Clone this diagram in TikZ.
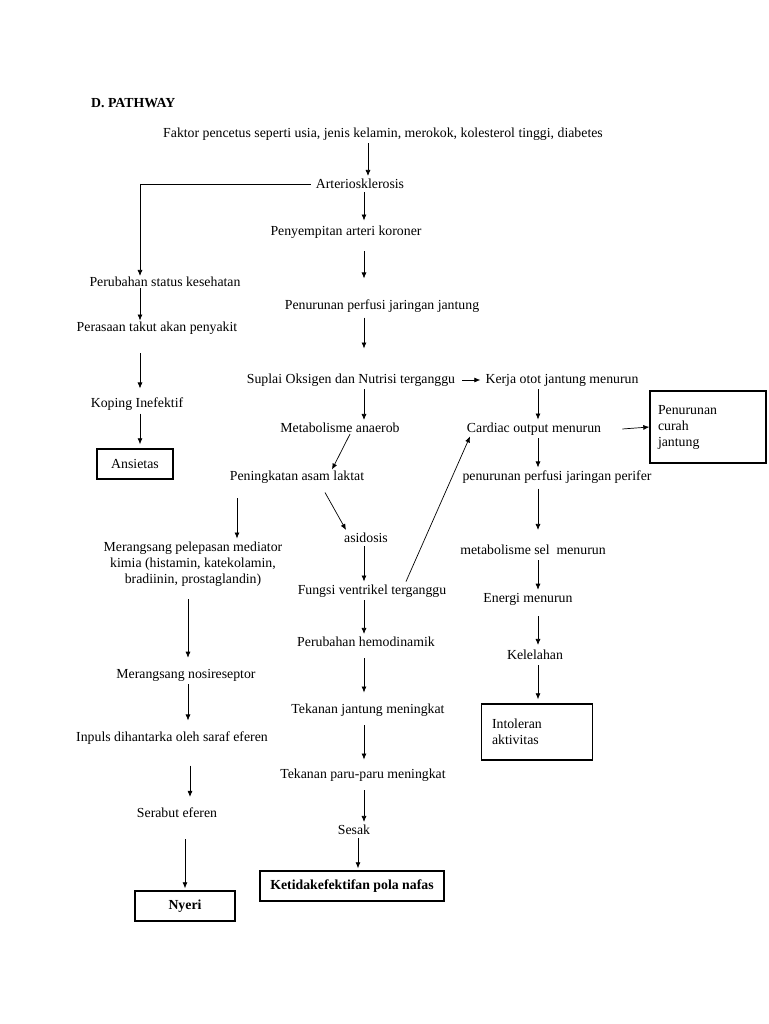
\documentclass[tikz,border=0pt]{standalone}
\usepackage{fontspec}
\setmainfont{Liberation Serif}
\usetikzlibrary{arrows.meta}
\begin{document}
\begin{tikzpicture}[x=1pt,y=-1pt,
  t/.style={inner sep=1pt,font=\fontsize{13.8}{16}\selectfont},
  bx/.style={t,draw,line width=1.4pt,minimum height=30pt,inner sep=4pt},
  ar/.style={-{Latex[length=6pt,width=5pt]},line width=0.7pt}]
\useasboundingbox (0,0) rectangle (768,1024);
\node[t,anchor=west,font=\bfseries\fontsize{13.8}{16}\selectfont] (title) at (90,103) {D. PATHWAY};
\node[t] (f) at (383,134) {Faktor pencetus seperti usia, jenis kelamin, merokok, kolesterol tinggi, diabetes};
\node[t] (art) at (360,184) {Arteriosklerosis};
\node[t] (pen) at (346,232) {Penyempitan arteri koroner};
\node[t] (perf) at (382,306) {Penurunan perfusi jaringan jantung};
\node[t] (sup) at (351,380) {Suplai Oksigen dan Nutrisi terganggu};
\node[t] (kerja) at (562,380) {Kerja otot jantung menurun};
\node[t] (meta) at (340,428) {Metabolisme anaerob};
\node[t] (card) at (534,429) {Cardiac output menurun};
\node[t,draw,line width=1.4pt,minimum width=116pt,minimum height=72pt,align=left,text width=100pt,inner sep=3pt] (pcj) at (708,427) {Penurunan\\curah\\jantung};
\node[t] (pening) at (297,477) {Peningkatan asam laktat};
\node[t] (perifer) at (557,477) {penurunan perfusi jaringan perifer};
\node[t,align=center] (meran) at (193,564) {Merangsang pelepasan mediator\\kimia (histamin, katekolamin,\\bradiinin, prostaglandin)};
\node[t] (asid) at (366,538) {asidosis};
\node[t] (metsel) at (533,550) {metabolisme sel\ \ menurun};
\node[t] (fungsi) at (372,591) {Fungsi ventrikel terganggu};
\node[t] (energi) at (528,599) {Energi menurun};
\node[t] (perub) at (366,642) {Perubahan hemodinamik};
\node[t] (kel) at (535,655) {Kelelahan};
\node[t] (nosi) at (186,675) {Merangsang nosireseptor};
\node[t,draw,line width=1.4pt,minimum width=111pt,minimum height=56pt,align=left,text width=90pt,inner sep=3pt] (into) at (537,732) {Intoleran\\aktivitas};
\node[t] (tekj) at (368,710) {Tekanan jantung meningkat};
\node[t] (inpuls) at (172,738) {Inpuls dihantarka oleh saraf eferen};
\node[t] (tekp) at (363,775) {Tekanan paru-paru meningkat};
\node[t] (serabut) at (177,813) {Serabut eferen};
\node[t] (sesak) at (354,830) {Sesak};
\node[bx,font=\bfseries\fontsize{13.8}{16}\selectfont,minimum width=184pt] (ket) at (352,886) {Ketidakefektifan pola nafas};
\node[bx,font=\bfseries\fontsize{13.8}{16}\selectfont,minimum width=100pt] (nyeri) at (185,906) {Nyeri};
\node[t] (perstat) at (165,282) {Perubahan status kesehatan};
\node[t] (takut) at (157,328) {Perasaan takut akan penyakit};
\node[t] (koping) at (137,404) {Koping Inefektif};
\node[bx,minimum width=76pt] (ans) at (135,464) {Ansietas};

\draw[line width=0.7pt] ([xshift=-4pt]art.west) -- (art.west -| 140,0) coordinate (c1);
\draw[ar] (c1) -- (perstat.north -| c1);
\draw[ar] (perstat.south -| 140,0) -- (takut.north -| 140,0);
\draw[ar] ([yshift=-18pt]takut.south -| 140,0) -- ([yshift=8pt]koping.north -| 140,0);
\draw[ar] ([yshift=-2pt]koping.south -| 140,0) -- ([yshift=4pt]ans.north -| 140,0);

\foreach \a/\b/\x/\s/\e in {f/art/368/2/2, art/pen/364/2/4, pen/perf/364/12/20, perf/sup/364/4/24, sup/meta/364/2/2,
  asid/fungsi/364/2/2, fungsi/perub/364/2/2, perub/tekj/364/10/10, tekj/tekp/364/8/8, tekp/sesak/364/8/2, sesak/ket/358/2/2,
  kerja/card/538/2/2, card/perifer/538/2/2, perifer/metsel/538/4/14, metsel/energi/538/4/2, energi/kel/538/10/4, kel/into/538/4/4,
  pening/meran/237/14/2, meran/nosi/188/12/10, nosi/inpuls/188/2/10, inpuls/serabut/190/20/10, serabut/nyeri/185/20/2}
  \draw[ar] ([yshift=-\s pt]\a.south -| \x,0) -- ([yshift=\e pt]\b.north -| \x,0);
\draw[ar] ([xshift=6pt]sup.east) -- ([xshift=-4pt]kerja.west);
\draw[ar] ([xshift=20pt]card.east) -- (pcj.west);
\draw[ar] ([xshift=10pt]meta.south) -- ([xshift=35pt]pening.north);
\draw[ar] ([xshift=28pt,yshift=-8pt]pening.south) -- ([xshift=-20pt,yshift=2pt]asid.north);
\draw[ar] ([xshift=34pt,yshift=2pt]fungsi.north) -- ([xshift=-64pt]card.south);
\end{tikzpicture}
\end{document}
